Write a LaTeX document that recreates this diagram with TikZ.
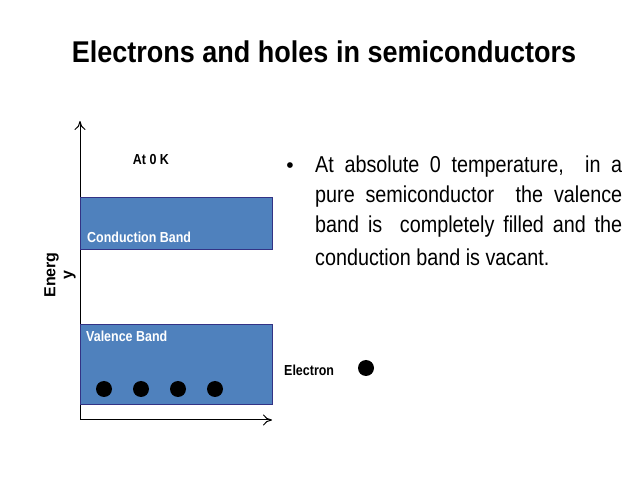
\documentclass[tikz,border=0pt]{standalone}
\usepackage{fontspec}
\usetikzlibrary{arrows.meta}
\setmainfont{Liberation Sans}
\newcommand{\cnd}[1]{\scalebox{0.86}[1]{#1}}
\begin{document}
\begin{tikzpicture}[x=1pt,y=-1pt,
  band/.style={draw=blue!40!black!80,fill=bandblue,line width=0.8pt},
  dot/.style={circle,fill=black,inner sep=0pt,minimum size=16pt},
  ax/.style={-{To[length=9pt,width=11pt]},line width=1pt},
  lab/.style={font=\fontsize{14.5}{16}\selectfont\bfseries,inner sep=0pt}]
\definecolor{bandblue}{HTML}{4F81BD}
\useasboundingbox (0,0) rectangle (638,478);
\node[inner sep=0pt,font=\fontsize{30}{32}\selectfont\bfseries] (title) at (324,52) {\scalebox{0.90}[1]{Electrons and holes in semiconductors}};
\coordinate (o) at (80,420);
\coordinate (ytop) at (80,121);
\coordinate (xend) at (272,420);
\draw[ax] (o) -- (ytop);
\draw[ax] (o) -- (xend);
\node[band,minimum width=192pt,minimum height=52pt,anchor=north west] (cb) at (80,197) {};
\node[band,minimum width=192pt,minimum height=80pt,anchor=north west] (vb) at (80,324) {};
\node[lab,text=white,anchor=west] (cbl) at (87,237) {\cnd{Conduction Band}};
\node[lab,text=white,anchor=west] (vbl) at (86,336) {\cnd{Valence Band}};
\foreach \x/\n in {104/a,141/b,178/c,215/d} \node[dot] (e\n) at (\x,389) {};
\node[lab] (t0) at (151,160) {\cnd{At 0 K}};
\node[lab,rotate=90,align=center,font=\fontsize{16}{17}\selectfont\bfseries] (en) at (60,275) {Energ\\y};
\node[inner sep=0pt,font=\fontsize{21}{24}\selectfont] (bul) at (290,168) {•};
\begin{scope}[every node/.style={anchor=west,inner sep=0pt,font=\fontsize{23}{24}\selectfont}]
\node (l1) at (315,167) {\cnd{\makebox[357pt][s]{At absolute 0 temperature,\ \ in a}}};
\node (l2) at (315,197) {\cnd{\makebox[357pt][s]{pure semiconductor\ \ the valence}}};
\node (l3) at (315,227) {\cnd{\makebox[357pt][s]{band is\ \ completely filled and the}}};
\node (l4) at (315,257) {\cnd{conduction band is vacant.}};
\end{scope}
\node[lab,anchor=west] (el) at (284,370) {\cnd{Electron}};
\node[dot] (ed) at (366,368) {};
\end{tikzpicture}
\end{document}
